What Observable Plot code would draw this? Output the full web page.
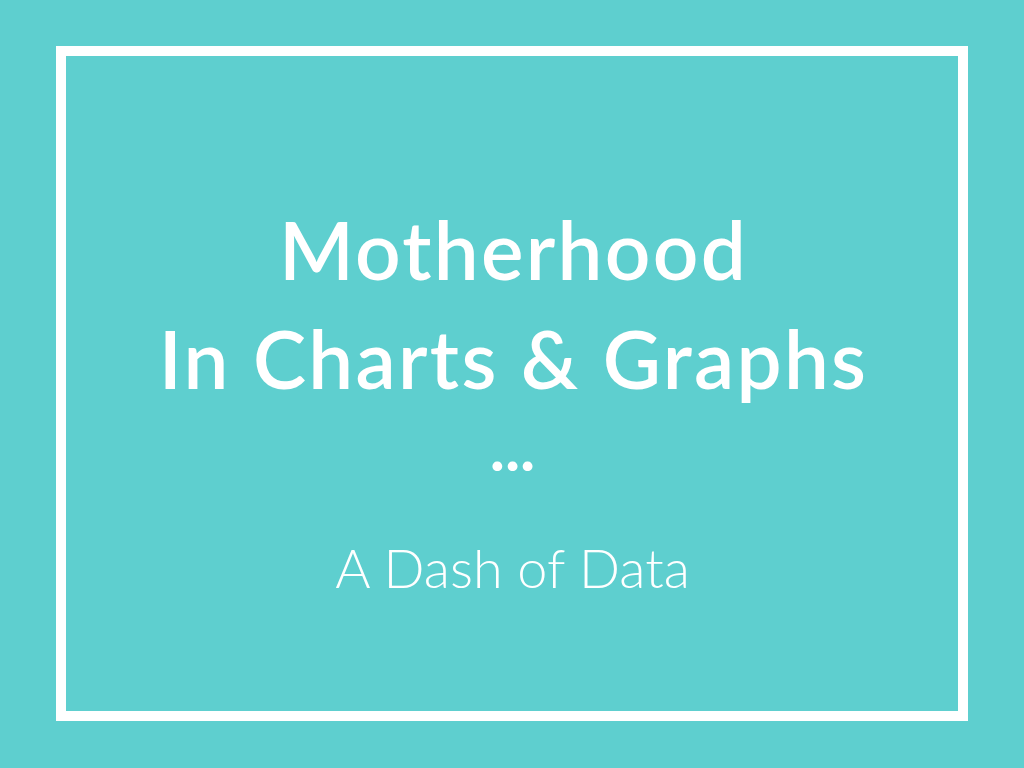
<!DOCTYPE html>
<html>
<head>
<meta charset="utf-8">
<script src="https://cdn.jsdelivr.net/npm/d3@7"></script>
<script src="https://cdn.jsdelivr.net/npm/@observablehq/plot@0.6"></script>
<style>
  html, body { margin: 0; padding: 0; background: #5ecfcf; }
  #chart svg { display: block; }
</style>
</head>
<body>
<div id="chart"></div>
<script>
// Slide content
const titleLines = ["Motherhood", "In Charts & Graphs"];
const ellipsis = ["..."];
const subtitle = ["A Dash of Data"];

// layout rows (slide coordinate system, 1024 x 768 units)
const titleRows = [254, 363];
const ellipsisRow = [450];
const subtitleRow = [570];
const frameBox = [{x1: 61, x2: 963, y1: 51, y2: 716}];

const titleData = titleLines.map((t, i) => ({text: t, y: titleRows[i]}));
const ellipsisData = ellipsis.map((t, i) => ({text: t, y: ellipsisRow[i]}));
const subtitleData = subtitle.map((t, i) => ({text: t, y: subtitleRow[i]}));

const chart = Plot.plot({
  width: 1024,
  height: 768,
  margin: 0,
  x: {domain: [0, 1024], axis: null},
  y: {domain: [0, 768], reverse: true, axis: null},
  style: {background: "#5ecfcf", fontFamily: "Lato, 'Open Sans', sans-serif"},
  marks: [
    Plot.rect(frameBox, {x1: "x1", x2: "x2", y1: "y1", y2: "y2", fill: "none", stroke: "white", strokeWidth: 10}),
    Plot.text(titleData, {x: () => 513, y: "y", text: "text", fill: "white", fontSize: 80, fontWeight: 600, textAnchor: "middle", lineAnchor: "middle"}),
    Plot.text(ellipsisData, {x: () => 512, y: "y", text: "text", fill: "white", fontSize: 64, fontWeight: 700, textAnchor: "middle", lineAnchor: "middle"}),
    Plot.text(subtitleData, {x: () => 512, y: "y", text: "text", fill: "white", fontSize: 54, fontWeight: 300, textAnchor: "middle", lineAnchor: "middle"})
  ]
});
chart.querySelectorAll("text").forEach((el) => {
  if (titleLines.includes(el.textContent)) el.setAttribute("letter-spacing", "2.3");
});
document.getElementById("chart").appendChild(chart);
</script>
</body>
</html>
